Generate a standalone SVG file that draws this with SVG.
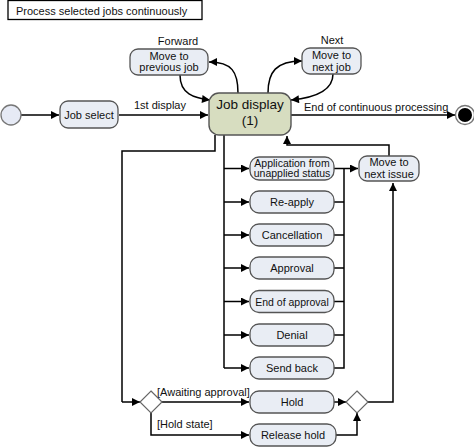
<svg xmlns="http://www.w3.org/2000/svg" width="474" height="447" viewBox="0 0 474 447">
<defs>
<marker id="ah" viewBox="0 0 10 10" refX="10" refY="5" markerWidth="9" markerHeight="8" markerUnits="userSpaceOnUse" orient="auto">
<path d="M0,0 L10,5 L0,10 z" fill="#000"/>
</marker>
</defs>
<style>
text{font-family:"Liberation Sans","DejaVu Sans",sans-serif;font-size:11px;fill:#111;}
.c{text-anchor:middle;}
.box{fill:#e9edf4;stroke:#555;stroke-width:1.3;}
.main{fill:#d7ddc0;stroke:#555;stroke-width:1.4;}
.ln{fill:none;stroke:#000;stroke-width:1.5;}
.ar{fill:none;stroke:#000;stroke-width:1.5;marker-end:url(#ah);}
.dia{fill:#fff;stroke:#666;stroke-width:1.2;}
</style>
<rect width="474" height="447" fill="#fff"/>

<g id="title">
<rect x="8" y="0.5" width="194" height="19" fill="#fff" stroke="#000" stroke-width="1.3"/>
<text x="16" y="14.5">Process selected jobs continuously</text>
</g>

<g id="connectors">
<path class="ar" d="M21,115 H59"/>
<path class="ar" d="M119,115 H208"/>
<path class="ar" d="M238,93 C238,72 232,62 209,62"/>
<path class="ar" d="M180,75 C180,94 194,98 210,100"/>
<path class="ar" d="M268,93 C268,72 276,61 302,61"/>
<path class="ar" d="M333,74 C333,92 312,98 291,100"/>
<path class="ar" d="M291,115 H455"/>
<path class="ln" d="M215,135 V151 H122 V402"/>
<path class="ar" d="M122,402 H140"/>
<path class="ln" d="M224,135 V368"/>
<path class="ar" d="M224,168.5 H249"/>
<path class="ar" d="M224,202 H249"/>
<path class="ar" d="M224,235 H249"/>
<path class="ar" d="M224,268 H249"/>
<path class="ar" d="M224,301.5 H249"/>
<path class="ar" d="M224,335 H249"/>
<path class="ar" d="M224,368 H249"/>
<path class="ln" d="M334,202 H344 M334,235 H344 M334,268 H344 M334,301.5 H344 M334,335 H344 M334,368 H344 V168.5"/>
<path class="ar" d="M334,168.5 H358"/>
<path class="ar" d="M389,156 V145 H287 V136"/>
<path class="ar" d="M162,402 H249"/>
<path class="ar" d="M151,413 V435 H249"/>
<path class="ar" d="M334,402 H346"/>
<path class="ar" d="M336,435 H357 V413"/>
<path class="ar" d="M368,402 H393 V183"/>
<text x="134" y="109">1st display</text>
<text x="304" y="111">End of continuous processing</text>
<text x="157" y="396">[Awaiting approval]</text>
<text x="157" y="428">[Hold state]</text>
</g>

<g id="initial">
<circle cx="11" cy="115" r="10" fill="#e6eaf5" stroke="#777" stroke-width="1.3"/>
</g>

<g id="final">
<circle cx="465" cy="115" r="9.5" fill="#fff" stroke="#777" stroke-width="1.3"/>
<circle cx="465" cy="115" r="7" fill="#000"/>
</g>

<g id="job-select">
<rect class="box" x="60" y="101" width="58" height="27" rx="8"/>
<text class="c" x="89" y="119">Job select</text>
</g>

<g id="job-display">
<rect class="main" x="209" y="93" width="82" height="42" rx="10"/>
<text class="c" x="250" y="109" style="font-size:13.5px">Job display</text>
<text class="c" x="250" y="125" style="font-size:13.5px">(1)</text>
</g>

<g id="prev-job">
<text class="c" x="178" y="45">Forward</text>
<rect class="box" x="130" y="49" width="78" height="26" rx="8"/>
<text class="c" x="169" y="59.5">Move to</text>
<text class="c" x="169" y="71">previous job</text>
</g>

<g id="next-job">
<text class="c" x="332" y="44">Next</text>
<rect class="box" x="302" y="48" width="59" height="26" rx="8"/>
<text class="c" x="331.5" y="59">Move to</text>
<text class="c" x="331.5" y="70.5">next job</text>
</g>

<g id="app-unapplied">
<rect class="box" x="250" y="157" width="84" height="23" rx="9"/>
<text class="c" x="292" y="166.5" style="font-size:10.5px">Application from</text>
<text class="c" x="292" y="177" style="font-size:10.5px">unapplied status</text>
</g>

<g id="next-issue">
<rect class="box" x="359" y="156" width="60" height="25" rx="8"/>
<text class="c" x="389" y="166">Move to</text>
<text class="c" x="389" y="177.5">next issue</text>
</g>

<g id="reapply">
<rect class="box" x="250" y="191" width="84" height="22" rx="9"/>
<text class="c" x="292" y="206">Re-apply</text>
</g>

<g id="cancellation">
<rect class="box" x="250" y="224" width="84" height="22" rx="9"/>
<text class="c" x="292" y="239">Cancellation</text>
</g>

<g id="approval">
<rect class="box" x="250" y="257" width="84" height="22" rx="9"/>
<text class="c" x="292" y="272">Approval</text>
</g>

<g id="end-approval">
<rect class="box" x="250" y="290.5" width="84" height="22" rx="9"/>
<text class="c" x="292" y="305.5" style="font-size:10.5px">End of approval</text>
</g>

<g id="denial">
<rect class="box" x="250" y="324" width="84" height="22" rx="9"/>
<text class="c" x="292" y="339">Denial</text>
</g>

<g id="send-back">
<rect class="box" x="250" y="357" width="84" height="22" rx="9"/>
<text class="c" x="292" y="372">Send back</text>
</g>

<g id="decision-left">
<polygon class="dia" points="151,391 162,402 151,413 140,402"/>
</g>

<g id="hold">
<rect class="box" x="250" y="391" width="84" height="22" rx="9"/>
<text class="c" x="292" y="406">Hold</text>
</g>

<g id="release-hold">
<rect class="box" x="250" y="424" width="86" height="22" rx="9"/>
<text class="c" x="293" y="439">Release hold</text>
</g>

<g id="decision-right">
<polygon class="dia" points="357,391 368,402 357,413 346,402"/>
</g>
</svg>
